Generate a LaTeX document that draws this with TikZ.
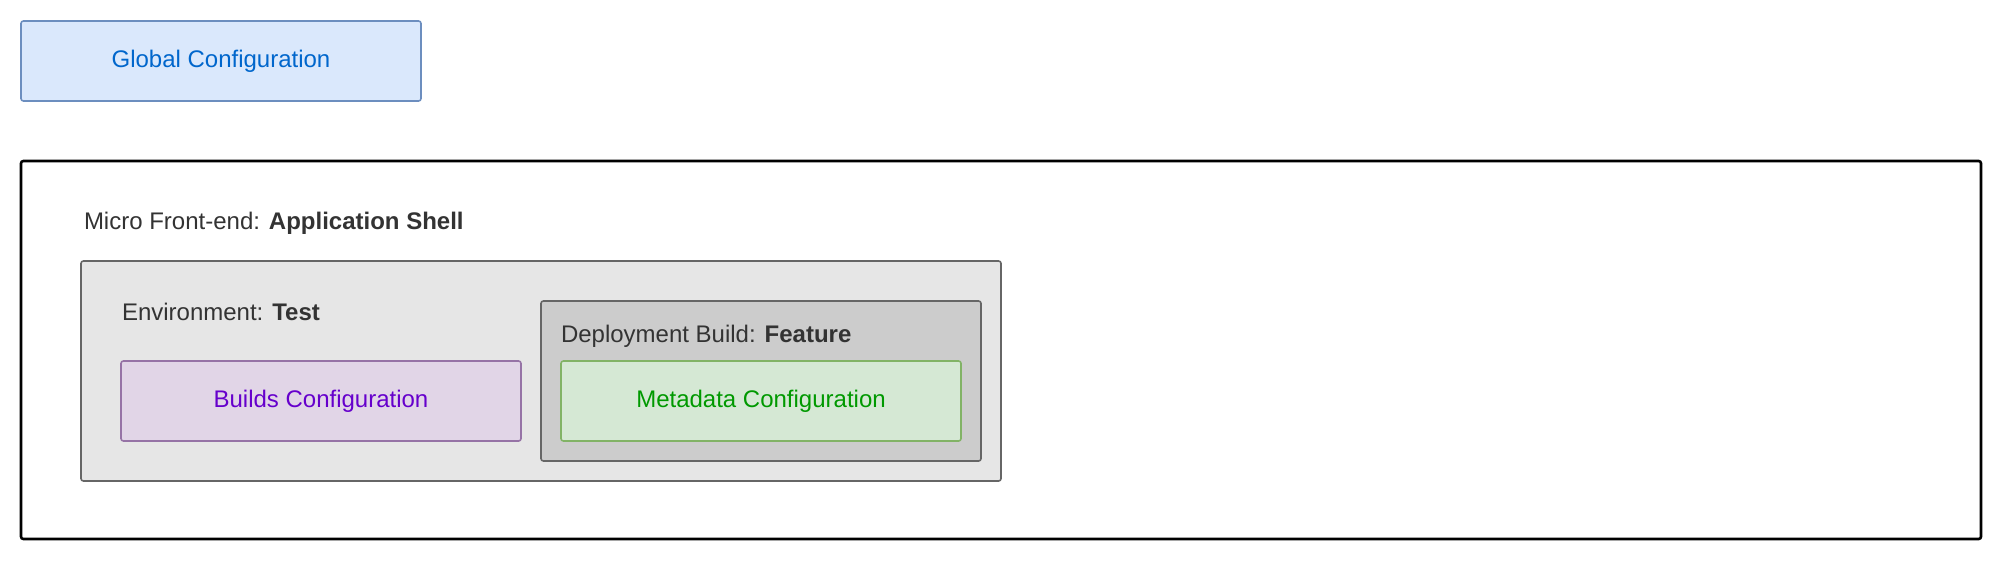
\documentclass[tikz,border=0pt]{standalone}
\usepackage{fontspec}
\setmainfont{Liberation Sans}
\definecolor{gfill}{HTML}{DAE8FC}
\definecolor{gstroke}{HTML}{6C8EBF}
\definecolor{gtext}{HTML}{0066CC}
\definecolor{pfill}{HTML}{E1D5E7}
\definecolor{pstroke}{HTML}{9673A6}
\definecolor{ptext}{HTML}{6600CC}
\definecolor{mfill}{HTML}{D5E8D4}
\definecolor{mstroke}{HTML}{82B366}
\definecolor{mtext}{HTML}{009900}
\definecolor{envfill}{HTML}{E6E6E6}
\definecolor{depfill}{HTML}{CCCCCC}
\definecolor{grstroke}{HTML}{666666}
\definecolor{lbl}{HTML}{333333}
\begin{document}
\begin{tikzpicture}[x=0.5pt,y=-0.5pt,
  every node/.style={font=\fontsize{12pt}{14pt}\selectfont, inner sep=0pt, outer sep=0pt},
  box/.style={rectangle, rounded corners=1.2pt, line width=0.8pt},
  cfgbox/.style={box, minimum width=200pt, minimum height=40pt},
  lab/.style={anchor=base west, text=lbl}]
\useasboundingbox (0,0) rectangle (2002,562);
\node[box, draw=black, line width=1.3pt, fill=white, minimum width=980pt, minimum height=189pt] (outer) at (1001,350) {};
\node[lab] (microlbl) at (84,229) {Micro Front-end: \textbf{Application Shell}};
\node[box, draw=grstroke, fill=envfill, minimum width=460pt, minimum height=110pt] (env) at (541,371) {};
\node[lab] (envlbl) at (122,320) {Environment: \textbf{Test}};
\node[box, draw=grstroke, fill=depfill, minimum width=220pt, minimum height=80pt] (dep) at (761,381) {};
\node[lab] (deplbl) at (561,342) {Deployment Build: \textbf{Feature}};
\node[cfgbox, draw=gstroke, fill=gfill, text=gtext] (global) at (221,61) {Global Configuration};
\node[cfgbox, draw=pstroke, fill=pfill, text=ptext] (builds) at (321,401) {Builds Configuration};
\node[cfgbox, draw=mstroke, fill=mfill, text=mtext] (meta) at (761,401) {Metadata Configuration};
\end{tikzpicture}
\end{document}
